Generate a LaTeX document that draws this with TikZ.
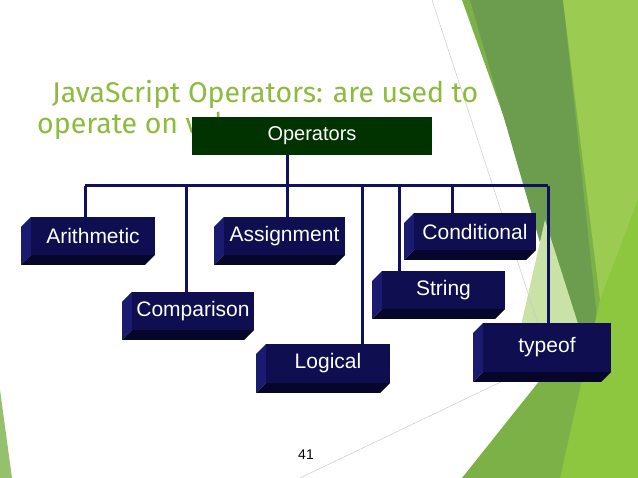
\documentclass[tikz,border=0pt]{standalone}
\usepackage{fontspec}
\setmainfont{Liberation Sans}
\newfontfamily\titlefont{Fira Sans}
\begin{document}
\begin{tikzpicture}[x=1pt,y=-1pt,
  opface/.style={fill=navyface,draw=none,text=white,minimum height=38,inner sep=0,font=\fontsize{21}{24}\selectfont},
  bus/.style={draw=navyline,line width=3pt}]
\definecolor{navyface}{HTML}{0E0E50}
\definecolor{navyside}{HTML}{1A1A70}
\definecolor{navybot}{HTML}{06062A}
\definecolor{navyline}{HTML}{101060}
\definecolor{titlegreen}{HTML}{8CBB3E}
\definecolor{opgreen}{HTML}{003300}
\definecolor{gA}{HTML}{7CB147}
\definecolor{gB}{HTML}{6C9C4E}
\definecolor{gC}{HTML}{8DC63F}
\definecolor{gD}{HTML}{C9E2A6}
\definecolor{gE}{HTML}{9CCB52}
\useasboundingbox (0,0) rectangle (638,478);
\fill[white] (0,0) rectangle (638,478);
% background decoration
\fill[gA] (462,0) -- (638,0) -- (638,478) -- (462,478) -- (580,330) -- cycle;
\fill[gB] (470,0) -- (563,0) -- (610,440) -- (560,330) -- (545,260) -- cycle;
\fill[gD] (545,220) -- (580,330) -- (520,330) -- cycle;
\fill[gE] (563,0) -- (638,0) -- (638,478) -- (600,478) -- (600,300) -- cycle;
\fill[gC] (600,300) -- (638,200) -- (638,478) -- (560,478) -- cycle;
\fill[gA!80!white] (0,390) -- (12,478) -- (0,478) -- cycle;
\draw[gray!40,line width=0.5pt] (432,0) -- (540,330);
\draw[gray!40,line width=0.5pt] (300,478) -- (505,380);
% title
\node[anchor=base west,text=titlegreen,font=\titlefont\fontsize{28.5}{32}\selectfont,inner sep=0] (t1) at (52,103) {JavaScript Operators: are used to};
\node[anchor=base west,text=titlegreen,font=\titlefont\fontsize{28.5}{32}\selectfont,inner sep=0] (t2) at (37,134) {operate on values};
% connectors coordinates
\coordinate (bl) at (85,186);
\coordinate (br) at (548,186);
\coordinate (vc) at (186,186);
\coordinate (vl) at (362,186);
\coordinate (vs) at (399,186);
\coordinate (vd) at (452,186);
% boxes
\newcommand{\opbox}[6]{% name, cx, cy, w, h, text
  \fill[navyside] (#2-#4/2,#3-#5/2) -- ++(-10,10) -- ++(0,#5) -- ++(10,-10) -- cycle;
  \fill[navybot] (#2-#4/2,#3+#5/2) -- ++(-10,10) -- ++(#4,0) -- ++(10,-10) -- cycle;
  \node[opface,minimum width=#4,minimum height=#5] (#1) at (#2,#3) {#6};}
\draw[bus] (bl) -- (br);
\draw[bus] (bl) -- (85,217);
\draw[bus] (vc) -- (186,292);
\draw[bus] (vl) -- (362,344);
\draw[bus] (vs) -- (399,271);
\draw[bus] (vd) -- (452,213);
\draw[bus] (br) -- (548,323);
\draw[bus] (287,155) -- (287,217);
\opbox{ar}{93}{236}{124}{38}{Arithmetic}
\opbox{as}{284.5}{236}{121}{38}{Assignment}
\opbox{co}{475}{231.5}{122}{37}{Conditional}
\opbox{st}{443.5}{290}{123}{38}{String}
\opbox{ty}{547}{347.5}{128}{49}{\raisebox{6pt}{typeof}}
\opbox{cm}{193}{311}{122}{38}{Comparison}
\opbox{lo}{328}{363.5}{124}{39}{Logical}
\node[fill=opgreen,text=white,minimum width=240,minimum height=38,inner sep=0,font=\fontsize{20}{24}\selectfont] (op) at (312,136) {Operators};
\node[font=\fontsize{14}{16}\selectfont] (pg) at (306,455) {41};
\end{tikzpicture}
\end{document}
